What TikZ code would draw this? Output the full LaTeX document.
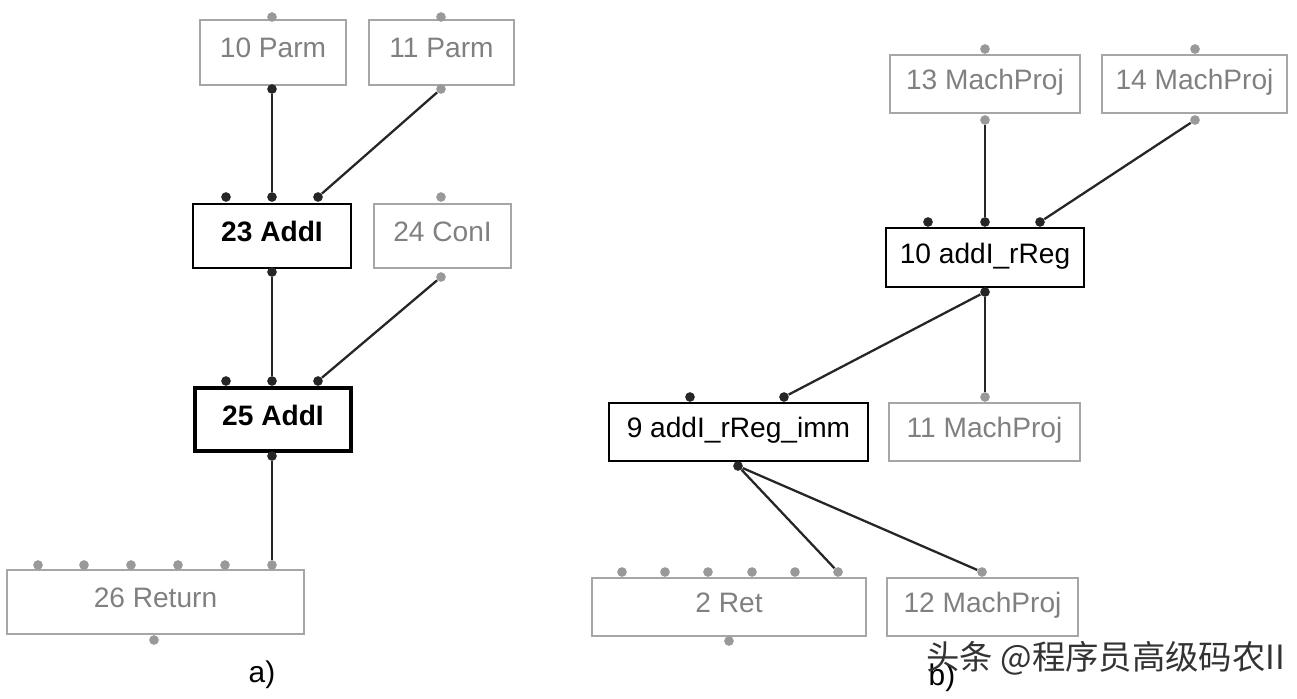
\documentclass[tikz,border=0pt]{standalone}
\usepackage{fontspec}
\setmainfont{Liberation Sans}
\newfontfamily\cjk{Noto Sans CJK SC}
\begin{document}
\begin{tikzpicture}[x=0.02cm,y=-0.02cm,
  box/.style={draw=gray!70,line width=1.2pt,text=gray,font=\fontsize{16}{18}\selectfont,inner sep=0pt},
  bbox/.style={draw=black,line width=1.3pt,text=black,font=\fontsize{16}{18}\selectfont,inner sep=0pt},
  gd/.style={circle,fill=gray!80,inner sep=0pt,minimum size=5.5pt},
  bd/.style={circle,fill=black!85,inner sep=0pt,minimum size=5.5pt},
  e/.style={line width=1.3pt,black!85}]
\useasboundingbox (0,0) rectangle (1297,698);
\newcommand\bx[6]{\node[#1,minimum width={(#4-#2)*0.02cm},minimum height={(#5-#3)*0.02cm}] at ({(#2+#4)/2},{(#3+#5)/2}) {\raisebox{5pt}{#6}};}
% left
\bx{box}{200}{20}{346}{85}{10 Parm}
\bx{box}{369}{20}{514}{85}{11 Parm}
\bx{bbox}{193}{204}{351}{268}{\bfseries 23 AddI}
\bx{box}{374}{204}{511}{268}{24 ConI}
\bx{bbox,line width=2.4pt}{195}{388}{351}{451}{\bfseries 25 AddI}
\bx{box}{7}{570}{304}{634}{26 Return}
\node[gd] at (272,17) {}; \node[bd] (p10o) at (272,89) {};
\node[gd] at (441,17) {}; \node[gd] (p11o) at (441,89) {};
\node[bd] at (226,197) {}; \node[bd] (a23i1) at (272,197) {}; \node[bd] (a23i2) at (318,197) {};
\node[bd] (a23o) at (272,272) {};
\node[gd] at (441,197) {}; \node[gd] (c24o) at (441,277) {};
\node[bd] at (226,381) {}; \node[bd] (a25i1) at (272,381) {}; \node[bd] (a25i2) at (318,381) {};
\node[bd] (a25o) at (272,456) {};
\foreach \x in {38,84,131,178,225} \node[gd] at (\x,565) {};
\node[gd] (r26i) at (272,565) {}; \node[gd] at (154,640) {};
\draw[e] (p10o)--(a23i1); \draw[e] (p11o)--(a23i2);
\draw[e] (a23o)--(a25i1); \draw[e] (c24o)--(a25i2);
\draw[e] (a25o)--(r26i);
% right
\bx{box}{890}{55}{1080}{113}{13 MachProj}
\bx{box}{1102}{55}{1287}{113}{14 MachProj}
\bx{bbox}{886}{228}{1084}{287}{10 addI\_rReg}
\bx{bbox}{609}{403}{868}{461}{9 addI\_rReg\_imm}
\bx{box}{889}{403}{1080}{461}{11 MachProj}
\bx{box}{592}{578}{866}{636}{2 Ret}
\bx{box}{887}{578}{1078}{636}{12 MachProj}
\node[gd] at (985,49) {}; \node[gd] (m13o) at (985,120) {};
\node[gd] at (1195,49) {}; \node[gd] (m14o) at (1195,120) {};
\node[bd] at (928,222) {}; \node[bd] (r10i1) at (985,222) {}; \node[bd] (r10i2) at (1040,222) {};
\node[bd] (r10o) at (985,292) {};
\node[bd] at (690,397) {}; \node[bd] (r9i) at (784,397) {};
\node[bd] (r9o) at (738,466) {};
\node[gd] (m11i) at (985,397) {};
\foreach \x in {622,665,708,752,795} \node[gd] at (\x,572) {};
\node[gd] (ret2i) at (838,572) {}; \node[gd] at (729,641) {};
\node[gd] (m12i) at (982,572) {};
\draw[e] (m13o)--(r10i1); \draw[e] (m14o)--(r10i2);
\draw[e] (r10o)--(r9i); \draw[e] (r10o)--(m11i);
\draw[e] (r9o)--(ret2i); \draw[e] (r9o)--(m12i);
\node[font=\fontsize{17}{19}\selectfont] (la) at (262,675) {a)};
\node[font=\fontsize{17}{19}\selectfont] (lb) at (942,678) {b)};
\node[font=\cjk\fontsize{19}{21}\selectfont,text=black!80,anchor=west] (wm) at (920,658) {头条 @程序员高级码农II};
\end{tikzpicture}
\end{document}
